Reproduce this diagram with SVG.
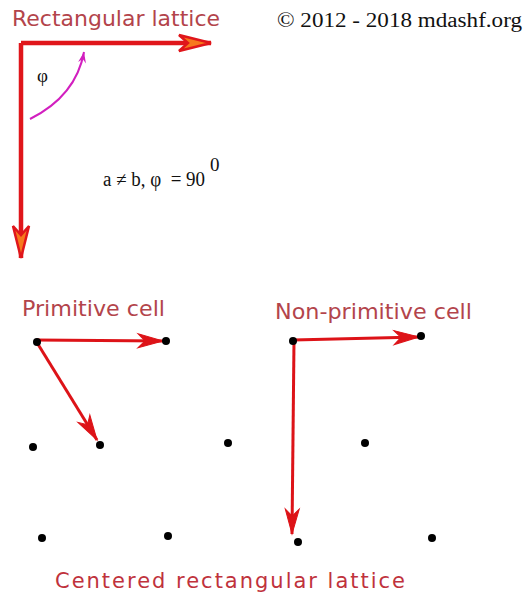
<svg xmlns="http://www.w3.org/2000/svg" width="527" height="599" viewBox="0 0 527 599">
<style>
.title{font-family:"DejaVu Sans",Verdana,sans-serif;font-size:22px;fill:#b3444b}
.serif{font-family:"Liberation Serif","DejaVu Serif",serif;fill:#111}
.dot{fill:#000}
.big{stroke:#e0161b;stroke-width:4.5;fill:none}
.thin{stroke:#dd1318;stroke-width:3;fill:none}
</style>
<defs>
<marker id="bigHead" markerUnits="userSpaceOnUse" viewBox="-34 -10 36 20" refX="0" refY="0" markerWidth="36" markerHeight="20" orient="auto">
<path d="M0,0 L-32,-8 L-23,0 L-32,8 Z" fill="#f7781c" stroke="#e0161b" stroke-width="2.5" stroke-linejoin="miter"/>
</marker>
<marker id="thinHead" markerUnits="userSpaceOnUse" viewBox="-28 -9 30 18" refX="0" refY="0" markerWidth="30" markerHeight="18" orient="auto">
<path d="M0,0 L-25,-7 L-18,0 L-25,7 Z" fill="#dd1318" stroke="#dd1318" stroke-width="1"/>
</marker>
<marker id="magHead" markerUnits="userSpaceOnUse" viewBox="-12 -6 14 12" refX="0" refY="0" markerWidth="14" markerHeight="12" orient="auto">
<path d="M0,0 L-11,-4 L-7,0 L-11,4 Z" fill="#d21fbf"/>
</marker>
</defs>
<text class="title" x="12" y="26" textLength="208" lengthAdjust="spacingAndGlyphs">Rectangular lattice</text>
<text class="serif" x="277" y="27" font-size="20" textLength="245" lengthAdjust="spacingAndGlyphs">© 2012 - 2018 mdashf.org</text>
<g id="connectors">
<path class="big" d="M21,43 L211,43" marker-end="url(#bigHead)"/>
<path class="big" d="M21,43 L21,258" marker-end="url(#bigHead)"/>
<path d="M30,119 Q76,96 84,52" stroke="#d21fbf" stroke-width="2" fill="none" marker-end="url(#magHead)"/>
<path class="thin" d="M36,340 L163,341" marker-end="url(#thinHead)"/>
<path class="thin" d="M36,341 L97,440" marker-end="url(#thinHead)"/>
<path class="thin" d="M293,340 L419,337" marker-end="url(#thinHead)"/>
<path class="thin" d="M294,341 L292,534" marker-end="url(#thinHead)"/>
</g>
<text class="serif" x="37" y="82" font-size="19">φ</text>
<text class="serif" x="103" y="186" font-size="20" xml:space="preserve" textLength="102" lengthAdjust="spacingAndGlyphs">a ≠ b, φ  = 90</text>
<text class="serif" x="210" y="171" font-size="19">0</text>
<text class="title" x="22" y="316" textLength="143" lengthAdjust="spacingAndGlyphs">Primitive cell</text>
<text class="title" x="275" y="319" textLength="197" lengthAdjust="spacingAndGlyphs">Non-primitive cell</text>
<g id="points">
<circle class="dot" cx="37" cy="342" r="4"/>
<circle class="dot" cx="166" cy="341" r="4"/>
<circle class="dot" cx="33" cy="447" r="4"/>
<circle class="dot" cx="100" cy="445" r="4"/>
<circle class="dot" cx="228" cy="443" r="4"/>
<circle class="dot" cx="365" cy="443" r="4"/>
<circle class="dot" cx="42" cy="538" r="4"/>
<circle class="dot" cx="168" cy="536" r="4"/>
<circle class="dot" cx="293" cy="341" r="4"/>
<circle class="dot" cx="421" cy="336" r="4"/>
<circle class="dot" cx="298" cy="542" r="4"/>
<circle class="dot" cx="432" cy="538" r="4"/>
</g>
<text class="title" x="55" y="588" style="fill:#c0323c;font-size:21px" textLength="350" lengthAdjust="spacing">Centered rectangular lattice</text>
</svg>
